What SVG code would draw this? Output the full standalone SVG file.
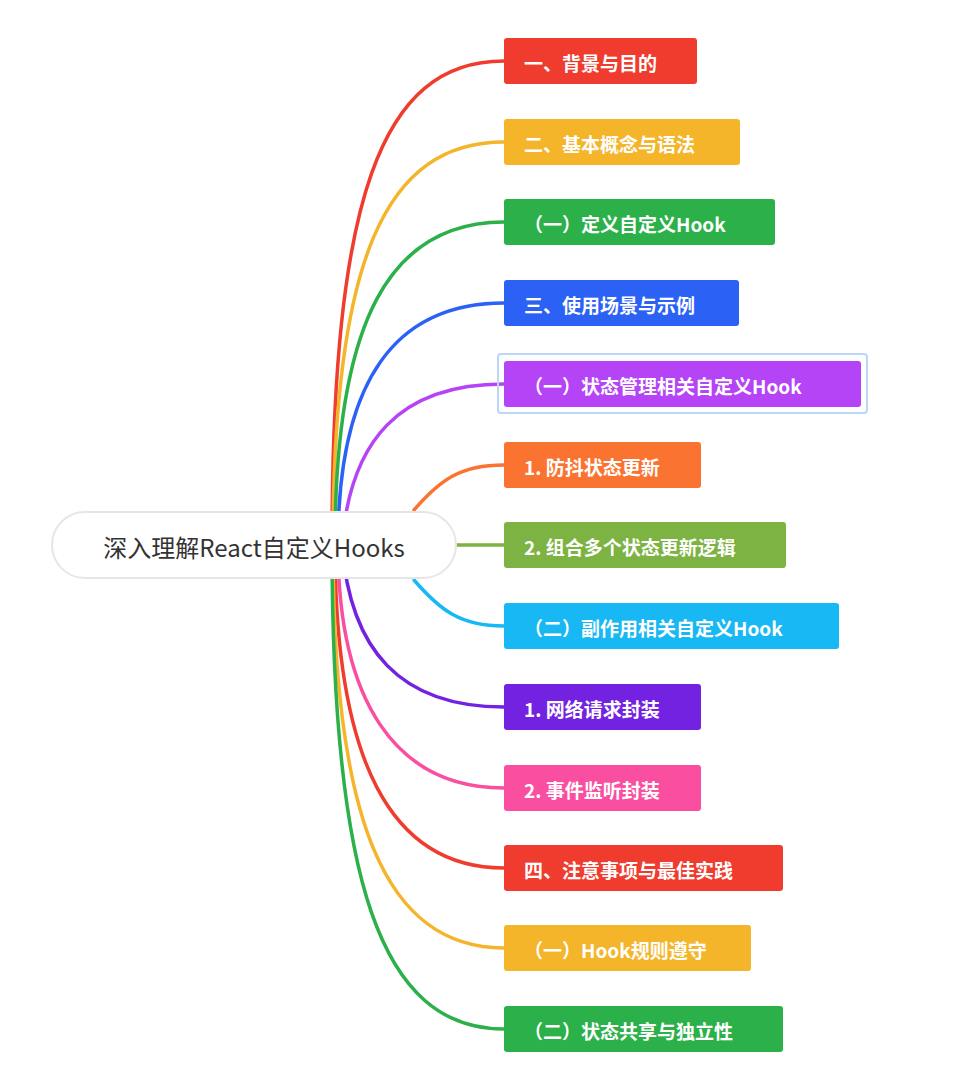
<svg xmlns="http://www.w3.org/2000/svg" width="966" height="1070" viewBox="0 0 966 1070">
<style>
.n{stroke:none}
.t{font-family:"Noto Sans CJK SC","Liberation Sans",sans-serif;font-size:19px;font-weight:bold;fill:#fff;dominant-baseline:central}
.c{fill:none;stroke-width:3.5;stroke-linecap:round}
</style>
<rect width="966" height="1070" fill="#fff"/>
<g id="connectors">
<path class="c" stroke="#f03c2e" d="M332 545 C332 200 380 61 504 61"/>
<path class="c" stroke="#f5b52a" d="M333 545 C333 260 385 142 504 142"/>
<path class="c" stroke="#2bb04a" d="M335 545 C335 320 390 222 504 222"/>
<path class="c" stroke="#2b62f5" d="M338 545 C338 380 395 303 504 303"/>
<path class="c" stroke="#b444f5" d="M342 545 C350 440 400 384 504 384"/>
<path class="c" stroke="#fa7331" d="M414 510 C440 480 460 465 504 465"/>
<path class="c" stroke="#7cb342" d="M456 545 C470 545 480 545 504 545"/>
<path class="c" stroke="#17b8f3" d="M414 580 C440 610 460 626 504 626"/>
<path class="c" stroke="#7222e0" d="M342 545 C350 650 400 707 504 707"/>
<path class="c" stroke="#fa4ea0" d="M338 545 C338 700 395 788 504 788"/>
<path class="c" stroke="#f03c2e" d="M335 545 C335 760 390 868 504 868"/>
<path class="c" stroke="#f5b52a" d="M333 545 C333 820 385 948 504 948"/>
<path class="c" stroke="#2bb04a" d="M332 545 C332 880 380 1029 504 1029"/>
</g>
<g id="root">
<rect x="52" y="512" width="404" height="66" rx="33" fill="#fff" stroke="#e6e6e6" stroke-width="2"/>
<text x="254" y="546" text-anchor="middle" style="font-family:'Noto Sans CJK SC','Liberation Sans',sans-serif;font-size:24px;fill:#333;dominant-baseline:central">深入理解React自定义Hooks</text>
</g>
<g id="n1"><rect x="504" y="38" width="193" height="46" rx="3" fill="#f03c2e"/><text class="t" x="524" y="62">一、背景与目的</text></g>
<g id="n2"><rect x="504" y="119" width="236" height="46" rx="3" fill="#f5b52a"/><text class="t" x="524" y="143">二、基本概念与语法</text></g>
<g id="n3"><rect x="504" y="199" width="271" height="46" rx="3" fill="#2bb04a"/><text class="t" x="524" y="223">（一）定义自定义Hook</text></g>
<g id="n4"><rect x="504" y="280" width="235" height="46" rx="3" fill="#2b62f5"/><text class="t" x="524" y="304">三、使用场景与示例</text></g>
<g id="n5"><rect x="498" y="354" width="369" height="59" rx="3" fill="none" stroke="#bcd6f7" stroke-width="2"/><rect x="504" y="361" width="357" height="46" rx="3" fill="#b444f5"/><text class="t" x="524" y="385">（一）状态管理相关自定义Hook</text></g>
<g id="n6"><rect x="504" y="442" width="197" height="46" rx="3" fill="#fa7331"/><text class="t" x="524" y="466">1. 防抖状态更新</text></g>
<g id="n7"><rect x="504" y="522" width="282" height="46" rx="3" fill="#7cb342"/><text class="t" x="524" y="546">2. 组合多个状态更新逻辑</text></g>
<g id="n8"><rect x="504" y="603" width="335" height="46" rx="3" fill="#17b8f3"/><text class="t" x="524" y="627">（二）副作用相关自定义Hook</text></g>
<g id="n9"><rect x="504" y="684" width="197" height="46" rx="3" fill="#7222e0"/><text class="t" x="524" y="708">1. 网络请求封装</text></g>
<g id="n10"><rect x="504" y="765" width="197" height="46" rx="3" fill="#fa4ea0"/><text class="t" x="524" y="789">2. 事件监听封装</text></g>
<g id="n11"><rect x="504" y="845" width="279" height="46" rx="3" fill="#f03c2e"/><text class="t" x="524" y="869">四、注意事项与最佳实践</text></g>
<g id="n12"><rect x="504" y="925" width="247" height="46" rx="3" fill="#f5b52a"/><text class="t" x="524" y="949">（一）Hook规则遵守</text></g>
<g id="n13"><rect x="504" y="1006" width="279" height="46" rx="3" fill="#2bb04a"/><text class="t" x="524" y="1030">（二）状态共享与独立性</text></g>
</svg>
